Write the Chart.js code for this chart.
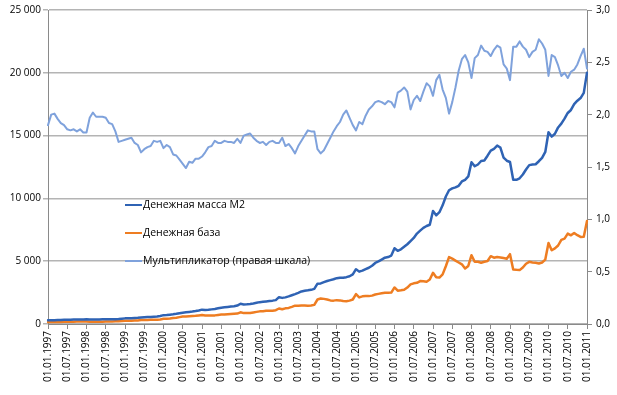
<!DOCTYPE html>
<html>
<head>
<meta charset="utf-8">
<script src="https://cdn.jsdelivr.net/npm/chart.js@4.4.0/dist/chart.umd.min.js"></script>
<style>
    html, body { margin: 0; padding: 0; background: #fff; }
    #wrap { width: 617px; height: 395px; position: relative; }
</style>
</head>
<body>
<div id="wrap"><canvas id="myChart"></canvas></div>
<script>
// Monthly categories, 01.01.1997 .. 01.01.2011
const months = [];
for (let y = 1997; y <= 2011; y++) {
    for (let m = 1; m <= 12; m++) {
        if (y === 2011 && m > 1) break;
        months.push('01.' + String(m).padStart(2, '0') + '.' + y);
    }
}

// Денежная масса М2, млрд руб. (left scale)
const m2 = [
    295, 302, 308, 318, 325, 331, 337, 345, 352, 357, 362, 368,
    374, 362, 359, 364, 367, 370, 376, 372, 380, 378, 395, 420,
    448, 452, 465, 478, 490, 510, 531, 548, 560, 580, 600, 640,
    705, 710, 740, 770, 810, 860, 904, 930, 960, 990, 1030, 1080,
    1144, 1120, 1135, 1165, 1200, 1250, 1300, 1330, 1360, 1390, 1420, 1470,
    1613, 1560, 1570, 1600, 1640, 1690, 1740, 1770, 1800, 1830, 1860, 1900,
    2135, 2080, 2120, 2200, 2290, 2380, 2480, 2590, 2650, 2680, 2720, 2800,
    3213, 3230, 3330, 3420, 3490, 3560, 3650, 3690, 3690, 3730, 3800, 3950,
    4363, 4170, 4250, 4370, 4480, 4640, 4860, 4980, 5130, 5280, 5330, 5450,
    6032, 5830, 5950, 6150, 6350, 6600, 6850, 7200, 7430, 7650, 7800, 7900,
    8996, 8650, 8900, 9450, 10150, 10650, 10800, 10880, 11000, 11350, 11480, 11750,
    12880, 12560, 12700, 12980, 13020, 13400, 13800, 13940, 14200, 14050, 13250, 13000,
    12900, 11480, 11480, 11600, 11900, 12300, 12650, 12700, 12720, 12960, 13230, 13700,
    15270, 14920, 15150, 15650, 15950, 16350, 16800, 17040, 17500, 17780, 17990, 18400,
    20012
];

// Денежная база (left scale)
const base = [
    155, 151, 153, 162, 169, 174, 181, 186, 189, 194, 195, 201,
    204, 184, 178, 184, 185, 187, 191, 194, 207, 225, 227, 240,
    255, 255, 261, 276, 287, 311, 318, 324, 329, 331, 345, 366,
    420, 415, 438, 475, 503, 548, 591, 600, 619, 643, 652, 684,
    715, 683, 672, 685, 686, 723, 751, 760, 782, 799, 821, 830,
    932, 867, 867, 879, 921, 966, 1006, 1017, 1053, 1052, 1063, 1098,
    1234, 1169, 1247, 1279, 1363, 1460, 1459, 1480, 1472, 1449, 1478, 1522,
    1950, 2030, 2000, 1950, 1880, 1860, 1900, 1880, 1830, 1820, 1860, 1950,
    2380, 2120, 2200, 2220, 2220, 2260, 2350, 2400, 2450, 2490, 2480, 2500,
    2910, 2650, 2680, 2720, 2900, 3150, 3240, 3280, 3420, 3400, 3370, 3540,
    4080, 3720, 3700, 3950, 4600, 5330, 5200, 5050, 4900, 4750, 4420, 4620,
    5480, 4950, 4950, 4880, 4950, 5020, 5400, 5280, 5340, 5300, 5260, 5200,
    5560, 4340, 4310, 4290, 4500, 4800, 4950, 4900, 4870, 4820, 4900, 5130,
    6450, 5870, 6020, 6250, 6700, 6800, 7200, 7060, 7250, 7070, 6930, 6950,
    8200
];

// Мультипликатор (right scale)
const multiplier = [
    1.90, 2.00, 2.01, 1.96, 1.92, 1.90, 1.86, 1.85, 1.86, 1.84, 1.86, 1.83,
    1.83, 1.97, 2.02, 1.98, 1.98, 1.98, 1.97, 1.92, 1.91, 1.84, 1.74, 1.75,
    1.76, 1.77, 1.78, 1.73, 1.71, 1.64, 1.67, 1.69, 1.70, 1.75, 1.74, 1.75,
    1.68, 1.71, 1.69, 1.62, 1.61, 1.57, 1.53, 1.49, 1.55, 1.54, 1.58, 1.58,
    1.60, 1.64, 1.69, 1.70, 1.75, 1.73, 1.73, 1.75, 1.74, 1.74, 1.73, 1.77,
    1.73, 1.80, 1.81, 1.82, 1.78, 1.75, 1.73, 1.74, 1.71, 1.74, 1.75, 1.73,
    1.73, 1.78, 1.70, 1.72, 1.68, 1.63, 1.70, 1.75, 1.80, 1.85, 1.84, 1.84,
    1.67, 1.63, 1.66, 1.72, 1.78, 1.84, 1.89, 1.93, 2.00, 2.04, 1.97, 1.90,
    1.85, 1.93, 1.91, 1.99, 2.05, 2.08, 2.12, 2.13, 2.12, 2.10, 2.13, 2.12,
    2.07, 2.21, 2.23, 2.26, 2.22, 2.05, 2.14, 2.18, 2.13, 2.22, 2.30, 2.27,
    2.18, 2.33, 2.38, 2.24, 2.16, 2.01, 2.12, 2.26, 2.42, 2.53, 2.57, 2.50,
    2.35, 2.54, 2.57, 2.66, 2.61, 2.60, 2.56, 2.62, 2.66, 2.64, 2.48, 2.44,
    2.33, 2.65, 2.65, 2.70, 2.65, 2.62, 2.55, 2.60, 2.62, 2.72, 2.68, 2.62,
    2.37, 2.57, 2.55, 2.47, 2.37, 2.40, 2.35, 2.41, 2.43, 2.48, 2.56, 2.63,
    2.44
];

const seriesNames = ['Денежная масса М2', 'Денежная база', 'Мультипликатор (правая шкала)'];
const seriesColors = ['#2f63b4', '#ee7d22', '#7fa2dc'];

const leftTicks = [0, 5000, 10000, 15000, 20000, 25000];
const rightTicks = [0, 0.5, 1, 1.5, 2, 2.5, 3];

const axisGray = '#8a8a8a';
const gridGray = '#b4b4b4';
const tickFont = { family: 'Open Sans', size: 10 };

// Legend drawn inside the plot area, like the original
const innerLegend = {
    id: 'innerLegend',
    afterDatasetsDraw(chart) {
        const ctx = chart.ctx;
        const area = chart.chartArea;
        const x0 = area.left + 77;
        const rows = [195, 223, 251];
        ctx.save();
        ctx.font = '10.5px "Open Sans"';
        ctx.textBaseline = 'middle';
        chart.data.datasets.forEach((ds, i) => {
            const y = area.top + rows[i];
            ctx.strokeStyle = ds.borderColor;
            ctx.lineWidth = 2;
            ctx.beginPath();
            ctx.moveTo(x0, y);
            ctx.lineTo(x0 + 17, y);
            ctx.stroke();
            ctx.fillStyle = '#000';
            ctx.fillText(ds.label, x0 + 18, y);
        });
        ctx.restore();
    }
};

const config = {
    type: 'line',
    data: {
        labels: months,
        datasets: [
            { label: seriesNames[0], data: m2, yAxisID: 'y', borderColor: seriesColors[0], borderWidth: 2.5 },
            { label: seriesNames[1], data: base, yAxisID: 'y', borderColor: seriesColors[1], borderWidth: 2.5 },
            { label: seriesNames[2], data: multiplier, yAxisID: 'y1', borderColor: seriesColors[2], borderWidth: 2 }
        ]
    },
    options: {
        responsive: true,
        maintainAspectRatio: false,
        animation: false,
        layout: { padding: { top: 9, right: 0, left: 0, bottom: 0 } },
        elements: {
            point: { radius: 0 },
            line: { tension: 0, fill: false, borderCapStyle: 'round', borderJoinStyle: 'round' }
        },
        plugins: {
            legend: { display: false },
            tooltip: { enabled: false }
        },
        scales: {
            x: {
                type: 'category',
                offset: false,
                grid: { drawOnChartArea: false, drawTicks: true, tickLength: 5, color: axisGray },
                border: { color: axisGray, width: 1 },
                ticks: {
                    autoSkip: false,
                    maxRotation: 90,
                    minRotation: 90,
                    padding: 2,
                    color: '#000',
                    font: tickFont,
                    callback: (v, i) => (i % 6 === 0 ? months[i] : null)
                },
                afterFit: (s) => { s.height = 71; }
            },
            y: {
                position: 'left',
                min: 0,
                max: 25000,
                afterBuildTicks: (s) => { s.ticks = leftTicks.map(v => ({ value: v })); },
                grid: { color: gridGray, lineWidth: 1.5, tickLength: 5 },
                border: { color: axisGray, width: 1 },
                ticks: {
                    color: '#000',
                    font: tickFont,
                    padding: 2,
                    callback: (v) => String(v).replace(/\B(?=(\d{3})+(?!\d))/g, ' ')
                },
                afterFit: (s) => { s.width = 48; }
            },
            y1: {
                position: 'right',
                min: 0,
                max: 3,
                afterBuildTicks: (s) => { s.ticks = rightTicks.map(v => ({ value: v })); },
                grid: { drawOnChartArea: false, tickLength: 5, color: axisGray },
                border: { color: axisGray, width: 1 },
                ticks: {
                    color: '#000',
                    font: tickFont,
                    padding: 4,
                    callback: (v) => Number(v).toFixed(1).replace('.', ',')
                },
                afterFit: (s) => { s.width = 30; }
            }
        }
    },
    plugins: [innerLegend]
};

const currentChart = new Chart(document.getElementById('myChart').getContext('2d'), config);
</script>
</body>
</html>
